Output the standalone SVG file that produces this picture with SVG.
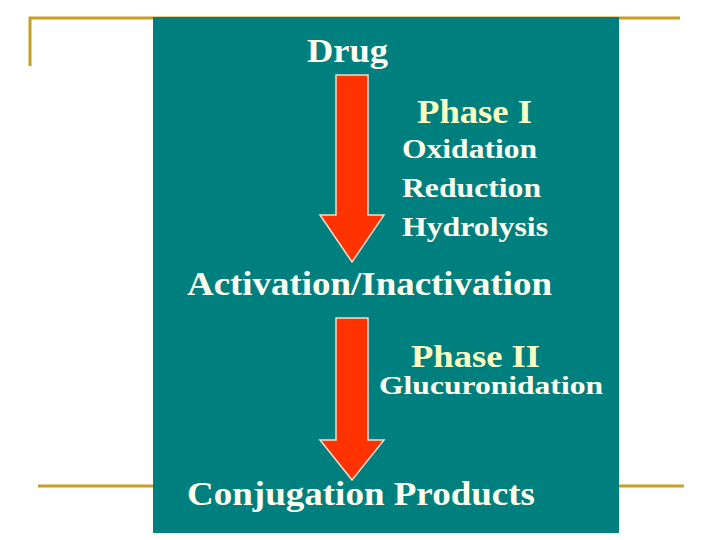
<svg xmlns="http://www.w3.org/2000/svg" width="720" height="540" viewBox="0 0 720 540">
<style>
.t{font-family:"Liberation Serif","Times New Roman",serif;font-weight:bold;fill:#FFFFF0}
.big{font-size:34px}
.sm{font-size:28px}
.ph{fill:#FFFFC0}
.ar{fill:#FF3300;stroke:#F0E0D0;stroke-width:1.5}
.gl{stroke:#C8A020;stroke-width:3;fill:none}
</style>
<rect width="720" height="540" fill="#fff"/>
<g id="frame">
<path class="gl" d="M30,66 V18 H680"/>
<path class="gl" d="M38,486 H684"/>
</g>
<rect id="panel" x="153" y="17" width="466" height="516" fill="#007F7F"/>
<g id="connectors">
<path class="ar" d="M336,75 H368 V215 H384 L352,262 L320,215 H336 Z"/>
<path class="ar" d="M336,318 H368 V440 H384 L352,480 L320,440 H336 Z"/>
</g>
<g id="drug"><text class="t big" x="307" y="62" textLength="81" lengthAdjust="spacingAndGlyphs">Drug</text></g>
<g id="phase1">
<text class="t big ph" x="417" y="123" textLength="115" lengthAdjust="spacingAndGlyphs">Phase I</text>
<text class="t sm" x="402" y="158" textLength="135" lengthAdjust="spacingAndGlyphs">Oxidation</text>
<text class="t sm" x="402" y="197" textLength="139" lengthAdjust="spacingAndGlyphs">Reduction</text>
<text class="t sm" x="402" y="236" textLength="146" lengthAdjust="spacingAndGlyphs">Hydrolysis</text>
</g>
<g id="activation"><text class="t big" x="187" y="295" textLength="365" lengthAdjust="spacingAndGlyphs">Activation/Inactivation</text></g>
<g id="phase2">
<text class="t ph" style="font-size:31px" x="411" y="367" textLength="129" lengthAdjust="spacingAndGlyphs">Phase II</text>
<text class="t" style="font-size:26px" x="379" y="394" textLength="224" lengthAdjust="spacingAndGlyphs">Glucuronidation</text>
</g>
<g id="conjugation"><text class="t big" x="187" y="505" textLength="348" lengthAdjust="spacingAndGlyphs">Conjugation Products</text></g>
</svg>
